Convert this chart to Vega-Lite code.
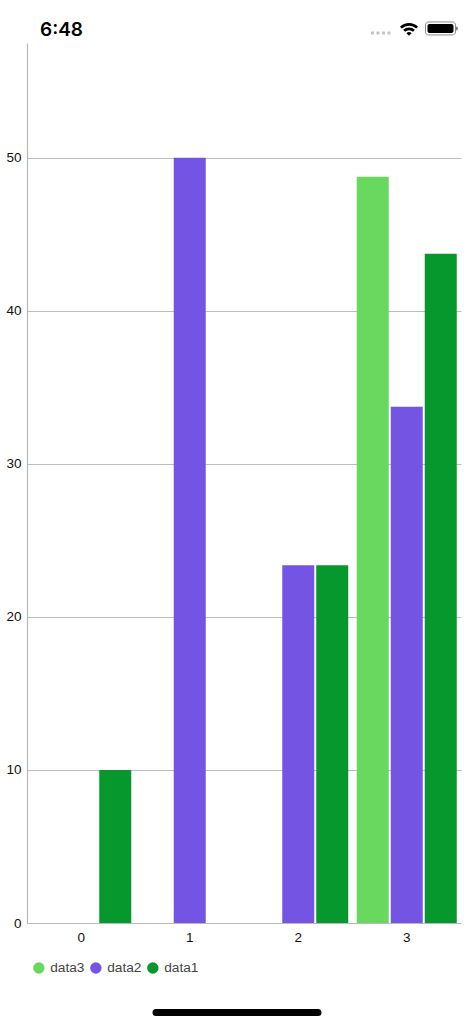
{
  "$schema": "https://vega.github.io/schema/vega-lite/v6.json",
  "width": 434,
  "height": 880,
  "autosize": "none",
  "padding": {"left": 27, "top": 43, "right": 13, "bottom": 103},
  "background": "white",
  "config": {"view": {"stroke": null}},
  "layer": [
    {
      "data": {
        "values": [
          {"index": "0", "series": "data1", "value": 10},
          {"index": "1", "series": "data2", "value": 50},
          {"index": "2", "series": "data2", "value": 23.38},
          {"index": "2", "series": "data1", "value": 23.38},
          {"index": "3", "series": "data3", "value": 48.76},
          {"index": "3", "series": "data2", "value": 33.74},
          {"index": "3", "series": "data1", "value": 43.73}
        ]
      },
      "mark": {"type": "bar"},
      "encoding": {
        "x": {
          "field": "index",
          "type": "nominal",
          "title": null,
          "scale": {"domain": ["0", "1", "2", "3"], "paddingInner": 0, "paddingOuter": 0},
          "axis": {"labelAngle": 0, "labelFont": "Liberation Sans", "labelFontSize": 13.5, "labelColor": "#111111", "labelPadding": 7, "ticks": false, "domainColor": "#b9b9b9", "domainWidth": 1.2, "grid": false}
        },
        "xOffset": {
          "field": "series",
          "type": "nominal",
          "scale": {"domain": ["data3", "data2", "data1"], "paddingInner": 0.0588, "paddingOuter": 0.125}
        },
        "y": {
          "field": "value",
          "type": "quantitative",
          "title": null,
          "scale": {"domain": [0, 57.5], "nice": false},
          "axis": {"values": [0, 10, 20, 30, 40, 50], "labelFont": "Liberation Sans", "labelFontSize": 13.5, "labelColor": "#111111", "labelPadding": 6, "ticks": false, "domainColor": "#b9b9b9", "domainWidth": 1.2, "gridColor": "#bdbdbd", "gridWidth": 1}
        },
        "color": {
          "field": "series",
          "type": "nominal",
          "title": null,
          "scale": {"domain": ["data3", "data2", "data1"], "range": ["#69d85e", "#7455e3", "#06972d"]},
          "legend": {
            "orient": "none",
            "legendX": 5,
            "legendY": 918,
            "direction": "horizontal",
            "columns": 3,
            "symbolType": "circle",
            "symbolSize": 130,
            "symbolStrokeWidth": 0,
            "labelFont": "Liberation Sans",
            "labelFontSize": 13.7,
            "labelColor": "#444444",
            "labelOffset": 4.5,
            "columnPadding": 4,
            "padding": 0
          }
        }
      }
    },
    {
      "data": {"values": [{}]},
      "mark": {"type": "text", "text": "6:48", "font": "Inter", "fontSize": 19, "fontWeight": 600, "align": "left", "baseline": "alphabetic", "color": "#000000"},
      "encoding": {
        "x": {"datum": 0.1198, "type": "quantitative", "scale": {"domain": [0, 4]}, "axis": null},
        "y": {"datum": 57.94, "type": "quantitative", "scale": {"domain": [0, 57.5], "nice": false}}
      }
    },
    {
      "data": {"values": [{}]},
      "mark": {"type": "point", "filled": true, "fill": "#c4c4c4", "stroke": null, "opacity": 1},
      "encoding": {
        "x": {"datum": 3.267, "type": "quantitative", "scale": {"domain": [0, 4]}, "axis": null},
        "y": {"datum": 58.15, "type": "quantitative", "scale": {"domain": [0, 57.5], "nice": false}},
        "shape": {"value": "M-10.5 -1.5H-7.5V1.5H-10.5Z M-5 -1.5H-2V1.5H-5Z M0.5 -1.5H3.5V1.5H0.5Z M6 -1.5H9V1.5H6Z"},
        "size": {"value": 4}
      }
    },
    {
      "data": {"values": [{}]},
      "mark": {"type": "point", "filled": false, "stroke": "#000000", "strokeWidth": 2.7, "opacity": 1},
      "encoding": {
        "x": {"datum": 3.521, "type": "quantitative", "scale": {"domain": [0, 4]}, "axis": null},
        "y": {"datum": 58.4, "type": "quantitative", "scale": {"domain": [0, 57.5], "nice": false}},
        "shape": {"value": "M-8.1 -1.6A11.5 11.5 0 0 1 8.1 -1.6 M-4.9 1.6A7 7 0 0 1 4.9 1.6"},
        "size": {"value": 4}
      }
    },
    {
      "data": {"values": [{}]},
      "mark": {"type": "point", "filled": true, "fill": "#000000", "stroke": null, "opacity": 1},
      "encoding": {
        "x": {"datum": 3.521, "type": "quantitative", "scale": {"domain": [0, 4]}, "axis": null},
        "y": {"datum": 58.4, "type": "quantitative", "scale": {"domain": [0, 57.5], "nice": false}},
        "shape": {"value": "M0 6.5L-2.6 3.9A3.7 3.7 0 0 1 2.6 3.9Z"},
        "size": {"value": 4}
      }
    },
    {
      "data": {"values": [{}]},
      "mark": {"type": "point", "filled": false, "stroke": "#8a8a8a", "strokeWidth": 1, "opacity": 1},
      "encoding": {
        "x": {"datum": 3.811, "type": "quantitative", "scale": {"domain": [0, 4]}, "axis": null},
        "y": {"datum": 58.45, "type": "quantitative", "scale": {"domain": [0, 57.5], "nice": false}},
        "shape": {"value": "M-12 -6.5H12A3 3 0 0 1 15 -3.5V3.5A3 3 0 0 1 12 6.5H-12A3 3 0 0 1 -15 3.5V-3.5A3 3 0 0 1 -12 -6.5Z"},
        "size": {"value": 4}
      }
    },
    {
      "data": {"values": [{}]},
      "mark": {"type": "point", "filled": true, "fill": "#000000", "stroke": null, "opacity": 1},
      "encoding": {
        "x": {"datum": 3.811, "type": "quantitative", "scale": {"domain": [0, 4]}, "axis": null},
        "y": {"datum": 58.45, "type": "quantitative", "scale": {"domain": [0, 57.5], "nice": false}},
        "shape": {"value": "M-13 -2.5A2 2 0 0 1 -11 -4.5H11A2 2 0 0 1 13 -2.5V2.5A2 2 0 0 1 11 4.5H-11A2 2 0 0 1 -13 2.5Z M16 -2V2A2 2 0 0 0 17 0A2 2 0 0 0 16 -2Z"},
        "size": {"value": 4}
      }
    },
    {
      "data": {"values": [{}]},
      "mark": {"type": "rule", "color": "#000000", "strokeWidth": 7, "strokeCap": "round"},
      "encoding": {
        "x": {"datum": 1.189, "type": "quantitative", "scale": {"domain": [0, 4]}, "axis": null},
        "x2": {"datum": 2.682},
        "y": {"datum": -5.846, "type": "quantitative", "scale": {"domain": [0, 57.5], "nice": false}}
      }
    }
  ],
  "resolve": {"scale": {"x": "independent"}}
}
